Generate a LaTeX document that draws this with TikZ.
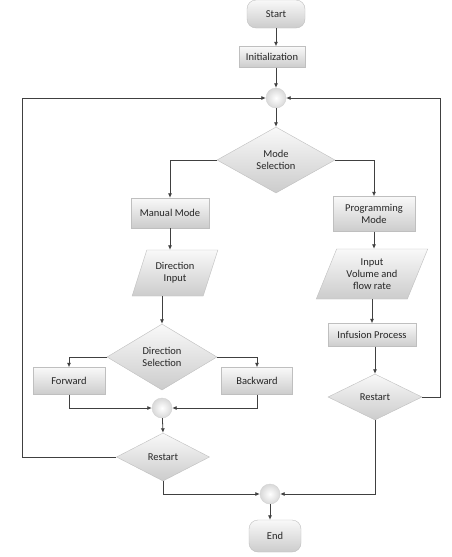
\documentclass[tikz,border=0pt]{standalone}
\usepackage{fontspec}
\setmainfont{Carlito}
\usetikzlibrary{shapes.geometric,arrows.meta,shadings}
\begin{document}
\begin{tikzpicture}[x=1pt,y=-1pt,
  font=\fontsize{10.5}{12}\selectfont,
  box/.style={draw=gray!50, top color=gray!5, bottom color=gray!40, inner sep=1pt, text=black!85, align=center},
  procbox/.style={box, rectangle, minimum width=#1},
  termbox/.style={box, rectangle, rounded corners=9pt},
  decbox/.style={box, diamond, inner sep=0pt},
  iobox/.style={box, trapezium, trapezium left angle=65, trapezium right angle=115, trapezium stretches=true},
  junc/.style={circle, draw=gray!35, inner color=white, outer color=gray!30, minimum size=20pt, inner sep=0pt},
  conn/.style={draw=black!75, line width=0.8pt},
  arr/.style={conn, -{Latex[length=4.5pt,width=4pt]}}
]
\useasboundingbox[fill=white] (0,0) rectangle (451,557);

\node[termbox, minimum width=58pt, minimum height=28pt] (start) at (276,14) {Start};
\node[procbox=66pt, minimum height=21pt] (init) at (272,57) {Initialization};
\node[junc] (j1) at (276,98) {};
\node[decbox, minimum width=118pt, minimum height=66pt] (mode) at (276,160) {Mode\\Selection};
\node[procbox=78pt, minimum height=30pt] (manual) at (170,213) {Manual Mode};
\node[procbox=82pt, minimum height=35pt] (prog) at (374,214) {Programming\\Mode};
\node[iobox, minimum width=86pt, minimum height=46pt] (dirin) at (175,273) {Direction\\Input};
\node[iobox, minimum width=112pt, minimum height=50pt] (volin) at (372,274) {Input\\Volume and\\flow rate};
\node[procbox=88pt, minimum height=23pt] (infus) at (372,335) {Infusion Process};
\node[decbox, minimum width=94pt, minimum height=46pt] (rrest) at (375,397) {Restart};
\node[decbox, minimum width=110pt, minimum height=66pt] (dirsel) at (162,357) {Direction\\Selection};
\node[procbox=72pt, minimum height=27pt] (fwd) at (69,381) {Forward};
\node[procbox=71pt, minimum height=27pt] (bwd) at (257,381) {Backward};
\node[junc] (j2) at (162,408) {};
\node[decbox, minimum width=93pt, minimum height=48pt] (lrest) at (163,457) {Restart};
\node[junc] (j3) at (270,494) {};
\node[termbox, minimum width=52pt, minimum height=32pt] (endn) at (275,536) {End};

\coordinate (lc) at (22,98);
\coordinate (rc) at (440,98);

\draw[arr] (start) -- (start |- init.north);
\draw[arr] (init.south -| j1) -- (j1);
\draw[arr] (j1) -- (mode);
\draw[arr] (mode.west) -| (manual.north);
\draw[arr] (mode.east) -| (prog.north);
\draw[arr] (manual.south) -- (manual.south |- dirin.north);
\draw[arr] (dirin.south -| dirsel.north) -- (dirsel.north);
\draw[arr] (prog.south) -- (prog.south |- volin.north);
\draw[arr] (volin.south -| infus.north) -- (infus.north);
\draw[arr] (infus.south -| rrest.north) -- (rrest.north);
\draw[arr] (dirsel.west) -| (fwd.north);
\draw[arr] (dirsel.east) -| (bwd.north);
\draw[arr] (fwd.south) |- (j2.west);
\draw[arr] (bwd.south) |- (j2.east);
\draw[arr] (j2) -- (lrest.north);
\draw[arr] (lrest.west) -| (lc) -- (j1.west);
\draw[arr] (rrest.east) -| (rc) -- (j1.east);
\draw[arr] (lrest.south) |- (j3.west);
\draw[arr] (rrest.south) |- (j3.east);
\draw[arr] (j3) -- (j3 |- endn.north);
\end{tikzpicture}
\end{document}
